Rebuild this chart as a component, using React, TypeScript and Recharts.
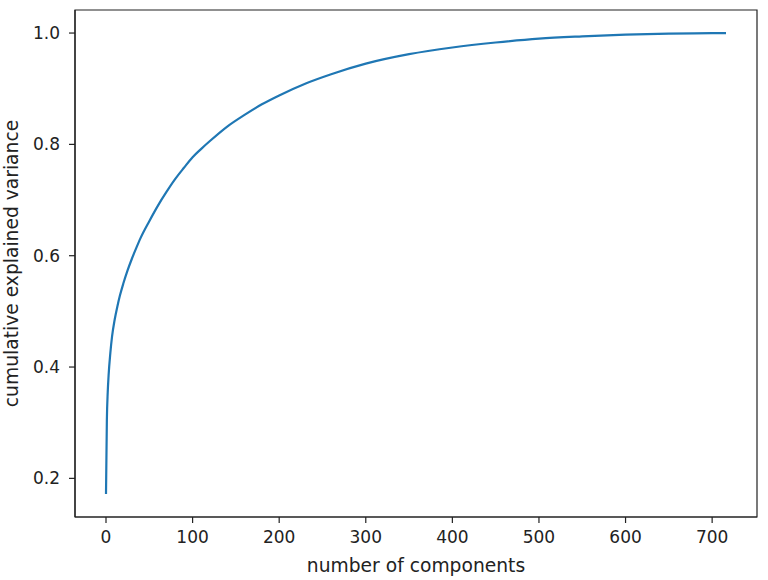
import { LineChart, Line, XAxis, YAxis, ReferenceArea } from 'recharts'

// number of components vs. cumulative explained variance
const components = [0, 1, 2, 3, 5, 7, 10, 13, 16, 20, 25, 30, 35, 40, 50, 60, 70, 80, 90, 100, 110, 120, 140, 160, 180, 200, 230, 260, 300, 350, 400, 450, 500, 550, 600, 650, 700, 716]
const cumVariance = [0.172, 0.305, 0.355, 0.385, 0.425, 0.455, 0.485, 0.508, 0.528, 0.55, 0.574, 0.595, 0.614, 0.632, 0.662, 0.69, 0.715, 0.738, 0.758, 0.777, 0.792, 0.806, 0.832, 0.853, 0.872, 0.888, 0.909, 0.926, 0.945, 0.962, 0.974, 0.983, 0.99, 0.994, 0.997, 0.999, 1.0, 1.0]

const xTicks = [0, 100, 200, 300, 400, 500, 600, 700]
const yTicks = [0.2, 0.4, 0.6, 0.8, 1.0]

const X_DOMAIN: [number, number] = [-35.8, 751.8]
const Y_DOMAIN: [number, number] = [0.1306, 1.0414]

const FONT = '"DejaVu Sans", sans-serif'
const INK = '#222'

const data = components.map((c, i) => ({ n: c, v: cumVariance[i] }))

export default function App() {
  const tickStyle = { fill: INK, fontSize: 17, fontFamily: FONT }
  return (
    <div style={{ position: 'absolute', left: 0, top: 0, background: '#fff' }}>
      <LineChart width={768} height={580} data={data} margin={{ top: 10, right: 11, left: 0, bottom: 0 }}>
        <XAxis
          type="number"
          dataKey="n"
          domain={X_DOMAIN}
          ticks={xTicks}
          allowDataOverflow
          height={63}
          tick={tickStyle}
          tickSize={6}
          tickMargin={8}
          stroke={INK}
          strokeWidth={1.2}
          label={{
            content: ({ viewBox }: any) => (
              <text x={viewBox.x + viewBox.width / 2} y={viewBox.y + 55} textAnchor="middle" fill={INK} fontSize={18.7} fontFamily={FONT}>
                number of components
              </text>
            ),
          }}
        />
        <YAxis
          type="number"
          domain={Y_DOMAIN}
          ticks={yTicks}
          allowDataOverflow
          width={75}
          tick={tickStyle}
          tickSize={6}
          tickMargin={9}
          tickFormatter={(v: number) => v.toFixed(1)}
          stroke={INK}
          strokeWidth={1.2}
          label={{
            content: ({ viewBox }: any) => {
              const cx = 11
              const cy = viewBox.y + viewBox.height / 2
              return (
                <text x={cx} y={cy} transform={`rotate(-90 ${cx} ${cy})`} textAnchor="middle" dominantBaseline="central" fill={INK} fontSize={18.7} fontFamily={FONT}>
                  cumulative explained variance
                </text>
              )
            },
          }}
        />
        <ReferenceArea x1={X_DOMAIN[0]} x2={X_DOMAIN[1]} y1={Y_DOMAIN[0]} y2={Y_DOMAIN[1]} fill="none" stroke={INK} strokeWidth={1.2} ifOverflow="visible" />
        <Line type="monotone" dataKey="v" stroke="#1f77b4" strokeWidth={2.2} dot={false} isAnimationActive={false} />
      </LineChart>
    </div>
  )
}
